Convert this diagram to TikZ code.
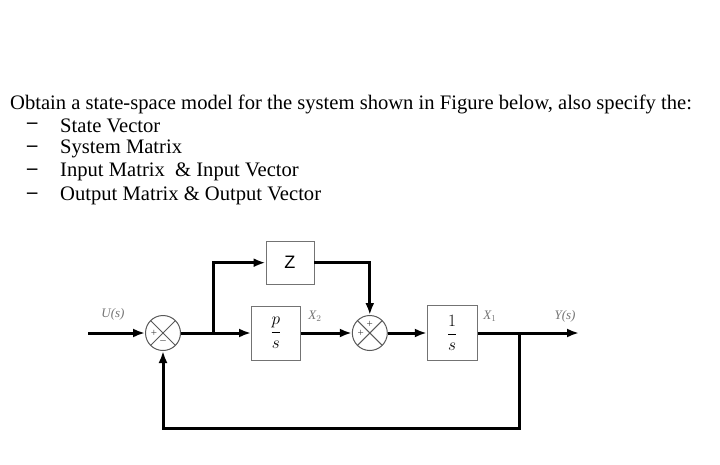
\documentclass[tikz,border=0pt]{standalone}
\usepackage{fontspec}
\setmainfont{Liberation Serif}
\newfontfamily\blocksans{Liberation Sans}
\usetikzlibrary{arrows.meta,positioning}

\begin{document}
\begin{tikzpicture}[x=1pt,y=-1pt,
  box/.style={draw=black!55,line width=.8pt,minimum width=49pt,minimum height=54pt,inner sep=0pt},
  sum/.style={circle,draw=black!65,line width=1pt,minimum size=35pt,inner sep=0pt,
    path picture={\draw[black!65,line width=1pt] (path picture bounding box.north west)--(path picture bounding box.south east) (path picture bounding box.north east)--(path picture bounding box.south west);}},
  sig/.style={-{Latex[length=12pt,width=9pt]},line width=3pt},
  lbl/.style={text=black!55,font=\itshape\fontsize{13}{15}\selectfont,inner sep=0pt},
  sgn/.style={font=\fontsize{11}{12}\selectfont,inner sep=0pt,text=black!75},
  txt/.style={anchor=west,font=\fontsize{20.6}{23}\selectfont,inner sep=0pt}]
\useasboundingbox (0,0) rectangle (720,464);
% question text
\node[txt] (task) at (10,104) {Obtain a state-space model for the system shown in Figure below, also specify the:};
\node[txt] (d1) at (27,126) {\textbf{--}};
\node[txt] (t1) at (60,126) {State Vector};
\node[txt] (d2) at (27,149) {\textbf{--}};
\node[txt] (t2) at (60,149) {System Matrix};
\node[txt] (d3) at (27,172) {\textbf{--}};
\node[txt] (t3) at (60,172) {Input Matrix \ \& Input Vector};
\node[txt] (d4) at (27,196) {\textbf{--}};
\node[txt] (t4) at (60,196) {Output Matrix \& Output Vector};
% block diagram
\coordinate (in) at (88,333);
\node[sum] (s1) at (163,333) {};
\node[box,right=70pt of s1] (ps) {\fontsize{19}{22}\selectfont$\displaystyle\frac{p}{s}$};
\node[box,minimum width=48pt,minimum height=43pt,above=21pt of ps,xshift=14pt] (z) {\blocksans\fontsize{18}{20}\selectfont Z};
\node[sum,right=51pt of ps] (s2) {};
\node[box,minimum width=50pt,minimum height=55pt,right=39pt of s2] (inv) {\fontsize{19}{22}\selectfont$\displaystyle\frac{1}{s}$};
\coordinate (b1) at (213,333);
\coordinate (b2) at (519,333);
\coordinate (out) at (579,333);
\coordinate (fb) at (519,428);
\node[sgn] at ([xshift=-9pt]s1.center) {+};
\node[sgn] at ([yshift=-9pt]s1.center) {--};
\node[sgn] at ([yshift=9pt]s2.center) {+};
\node[sgn] at ([xshift=-9pt]s2.center) {+};
\node[lbl] (u) at (113,314) {U(s)};
\node[lbl] (x2) at (315,316) {X$_2$};
\node[lbl] (x1) at (490,316) {X$_1$};
\node[lbl] (y) at (565,316) {Y(s)};
\draw[sig] (in) -- (s1);
\draw[sig] (s1) -- (ps);
\draw[sig] (b1) |- (z);
\draw[sig] (ps) -- (s2);
\draw[sig] (z) -| (s2);
\draw[sig] (s2) -- (inv);
\draw[sig] (inv) -- (out);
\draw[sig] (b2) -- (fb) -| (s1);
\end{tikzpicture}
\end{document}
